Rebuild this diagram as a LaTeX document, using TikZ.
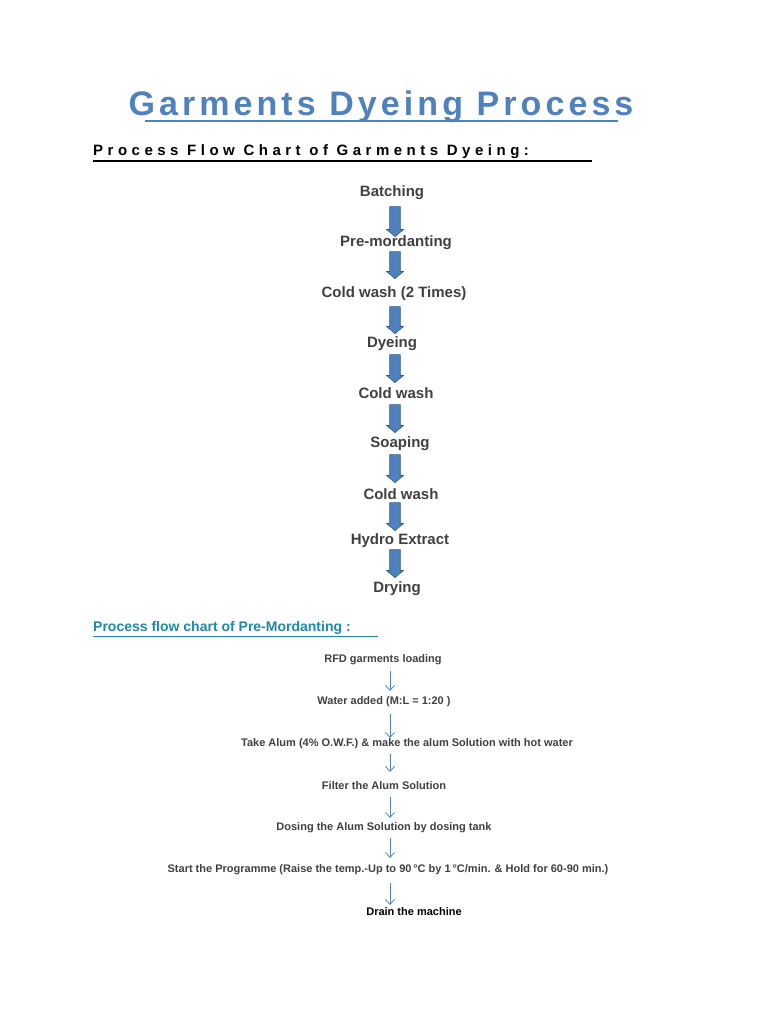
\documentclass[tikz,border=0pt]{standalone}
\usepackage{fontspec}
\setmainfont{Liberation Sans}
\usetikzlibrary{shapes.arrows}
\definecolor{bl}{HTML}{4F81BD}
\definecolor{bld}{HTML}{385D8A}
\definecolor{tl}{HTML}{1C8AA8}
\definecolor{tx}{HTML}{404040}
\tikzset{
 big/.style={font=\bfseries\fontsize{15}{18}\selectfont,text=tx,inner sep=0pt},
 small/.style={font=\bfseries\fontsize{11}{13}\selectfont,text=tx,inner sep=0pt},
 blk/.style={single arrow,shape border rotate=270,fill=bl,draw=bld,line width=0.6pt,minimum width=17pt,single arrow head extend=2pt,single arrow tip angle=100,inner sep=3pt},
 thin/.style={draw=bl,line width=0.8pt,-{Straight Barb[length=5pt,width=9pt]}}
}
\usetikzlibrary{arrows.meta}
\begin{document}
\begin{tikzpicture}[x=1pt,y=-1pt]
\useasboundingbox (0,0) rectangle (768,1024);
\node[font=\bfseries\fontsize{34}{40}\selectfont\addfontfeature{LetterSpace=12},text=bl,inner sep=0pt] (title) at (381,107) {Garments Dyeing Process};
\draw[bl,line width=1.2pt] (145,121) -- (618,121);
\node[font=\bfseries\fontsize{15}{18}\selectfont\addfontfeature{LetterSpace=30},anchor=west,inner sep=0pt] (sub) at (93,152) {Process Flow Chart of Garments Dyeing:};
\draw[line width=1.2pt] (93,161) -- (592,161);
\foreach \n/\x/\y/\t in {a/392/193/Batching,b/396/243/Pre-mordanting,c/394/294/Cold wash (2 Times),d/392/344/Dyeing,e/396/393/Cold wash,f/400/444/Soaping,g/401/494/Cold wash,h/400/541/Hydro Extract,i/397/589/Drying}
  \node[big] (\n) at (\x,\y) {\t};
\foreach \y/\l in {207/30,252/27,307/27,355/28,405/28,455/28,503/28,550/28}
  \node[blk,minimum height=\l pt,anchor=tip] at (395,\y+\l) {};
\node[font=\bfseries\fontsize{14}{17}\selectfont,text=tl,anchor=west,inner sep=0pt] (h2) at (93,628) {Process flow chart of Pre-Mordanting :};
\draw[tl,line width=0.8pt] (93,636) -- (378,636);
\node[small] (p1) at (383,660) {RFD garments loading};
\node[small] (p2) at (384,702) {Water added (M:L = 1:20 )};
\node[small] (p3) at (407,744) {Take Alum (4\% O.W.F.) \& make the alum Solution with hot water};
\node[small] (p4) at (384,786) {Filter the Alum Solution};
\node[small] (p5) at (384,828) {Dosing the Alum Solution by dosing tank};
\node[small] (p6) at (388,870) {Start the Programme (Raise the temp.-Up to 90\,\textdegree{}C by 1\,\textdegree{}C/min. \& Hold for 60-90 min.)};
\node[small,text=black] (p7) at (414,912) {Drain the machine};
\foreach \a/\b in {671/691,714/738,754/772,797/818,838/858,883/905}
  \draw[thin] (390,\a) -- (390,\b);
\end{tikzpicture}
\end{document}
